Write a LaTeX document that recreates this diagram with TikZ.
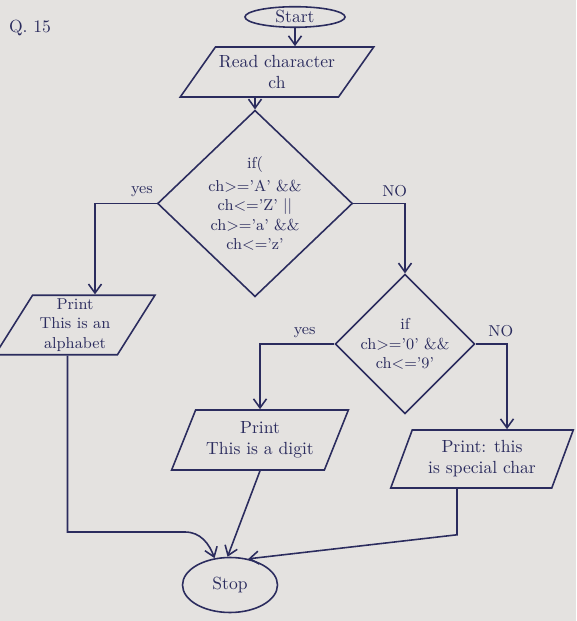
\documentclass[tikz,border=0pt]{standalone}
\usetikzlibrary{arrows.meta, shapes.geometric}
\definecolor{ink}{HTML}{2B2C5E}
\definecolor{paper}{HTML}{E4E2E0}

\begin{document}
\begin{tikzpicture}[>={Straight Barb[length=1.8mm,width=2.6mm]}, color=ink,
      line width=0.9pt,
      io/.style={trapezium, trapezium stretches=true, draw, align=center,
                 inner sep=2pt},
      dec/.style={diamond, draw, align=center, inner sep=0pt, font=\small},
      term/.style={ellipse, draw, inner sep=0.5pt},
      lbl/.style={font=\small}]
    \fill[paper] (0,0) rectangle (11.52,12.42);
    \useasboundingbox (0,0) rectangle (11.52,12.42);

    \node (qno) at (0.6,11.86) {Q. 15};
    \node[term, minimum width=2cm] (start) at (5.9,12.08) {Start};
    \node[io, trapezium left angle=49, trapezium right angle=131,
          minimum width=3.66cm, minimum height=1.0cm] (read) at (5.54,10.98)
      {Read character\\ ch};
    \node[dec, minimum width=3.9cm, minimum height=3.14cm] (d1) at (5.1,8.35)
      {if(\\[2pt] ch>='A' \&\&\\ ch<='Z' ||\\ ch>='a' \&\&\\ ch<='z'};
    \node[io, font=\small, trapezium left angle=60, trapezium right angle=120,
          minimum width=3.2cm, minimum height=1.08cm] (alpha) at (1.5,5.92)
      {Print\\ This is an\\ alphabet};
    \node[dec, minimum width=2.75cm, minimum height=2.24cm] (d2) at (8.1,5.54)
      {if\\ ch>='0' \&\&\\ ch<='9'};
    \node[io, trapezium left angle=64, trapezium right angle=116,
          minimum width=3.56cm, minimum height=1.2cm] (digit) at (5.2,3.62)
      {Print\\ This is a digit};
    \node[io, trapezium left angle=68, trapezium right angle=112,
          minimum width=3.66cm, minimum height=1.16cm] (special) at (9.64,3.24)
      {Print: this\\ is special char};
    \node[term, minimum width=1.9cm, minimum height=1.1cm] (stop) at (4.6,0.72)
      {Stop};

    \draw[->] (start.south) -- (start.south |- read.north);
    \draw[->] (d1.north |- read.south) -- (d1.north);
    \draw[->] (d1.west) -| node[lbl, pos=0.12, above] {yes}
      ([xshift=0.4cm]alpha.north);
    \draw[->] (d1.east) -| node[lbl, pos=0.4, above] {NO} (d2.north);
    \draw[->] (d2.west) -| node[lbl, pos=0.2, above] {yes} (digit.north);
    \draw[->] (d2.east) -| node[lbl, pos=0.4, above] {NO}
      ([xshift=0.5cm]special.north);

    \coordinate (ja) at (3.7,1.78);
    \draw[->] ([xshift=-0.15cm]alpha.south) |- (ja) to[out=0, in=110] (stop.120);
    \draw[->] (digit.south) -- (stop.95);
    \draw[->] ([xshift=-0.5cm]special.south) -- ++(0,-0.92) -- (stop.55);
\end{tikzpicture}
\end{document}
